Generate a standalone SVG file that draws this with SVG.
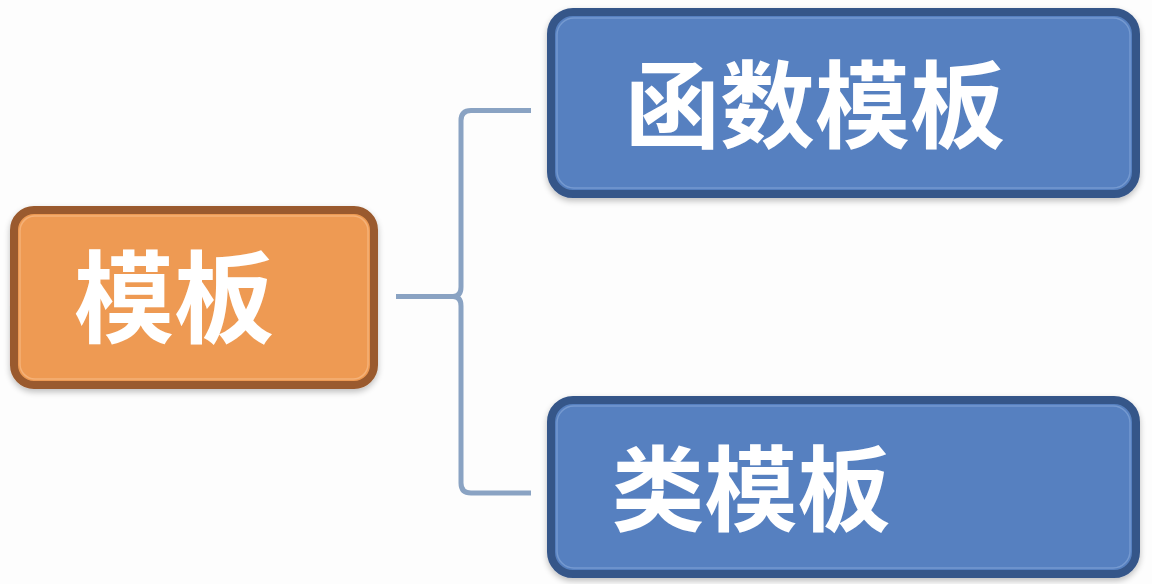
<svg xmlns="http://www.w3.org/2000/svg" width="1152" height="584" viewBox="0 0 1152 584">
<defs>
<filter id="sh" x="-10%" y="-10%" width="120%" height="130%">
<feGaussianBlur in="SourceAlpha" stdDeviation="3"/>
<feOffset dy="3"/>
<feComponentTransfer><feFuncA type="linear" slope="0.25"/></feComponentTransfer>
<feMerge><feMergeNode/><feMergeNode in="SourceGraphic"/></feMerge>
</filter>
</defs>
<style>
.lbl{font-family:"Noto Sans CJK SC","Noto Sans CJK JP",sans-serif;font-weight:600;fill:#ffffff;dominant-baseline:central}
.orange{fill:#EE9A52;stroke:#9A5A2E;stroke-width:8}
.blue{fill:#5680C0;stroke:#365689;stroke-width:8}
.hiO{fill:none;stroke:#F6B681;stroke-width:1.5;opacity:0.8}
.hiB{fill:none;stroke:#7C9FD3;stroke-width:1.5;opacity:0.8}
.conn{fill:none;stroke:#8AA3C3;stroke-width:5;stroke-linecap:butt;stroke-linejoin:round}
</style>
<rect width="1152" height="584" fill="#FDFDFD"/>
<g id="connectors">
<path class="conn" d="M531,110.5 H471 Q461,110.5 461,120.5 V287 Q461,296.5 453,296.5 H396"/>
<path class="conn" d="M453,296.5 Q461,296.5 461,306 V483 Q461,493 471,493 H531"/>
</g>
<g id="node-root" filter="url(#sh)">
<rect class="orange" x="14" y="210" width="360" height="175" rx="20"/>
<rect class="hiO" x="20" y="216" width="348" height="163" rx="15"/>
<text class="lbl" x="174" y="291" font-size="100" text-anchor="middle">模板</text>
</g>
<g id="node-func" filter="url(#sh)">
<rect class="blue" x="551" y="12" width="585" height="182" rx="22"/>
<rect class="hiB" x="557" y="18" width="573" height="170" rx="17"/>
<text class="lbl" x="815" y="99" font-size="95" text-anchor="middle">函数模板</text>
</g>
<g id="node-class" filter="url(#sh)">
<rect class="blue" x="551" y="400" width="585" height="174" rx="22"/>
<rect class="hiB" x="557" y="406" width="573" height="162" rx="17"/>
<text class="lbl" x="751" y="483" font-size="93" text-anchor="middle">类模板</text>
</g>
</svg>
